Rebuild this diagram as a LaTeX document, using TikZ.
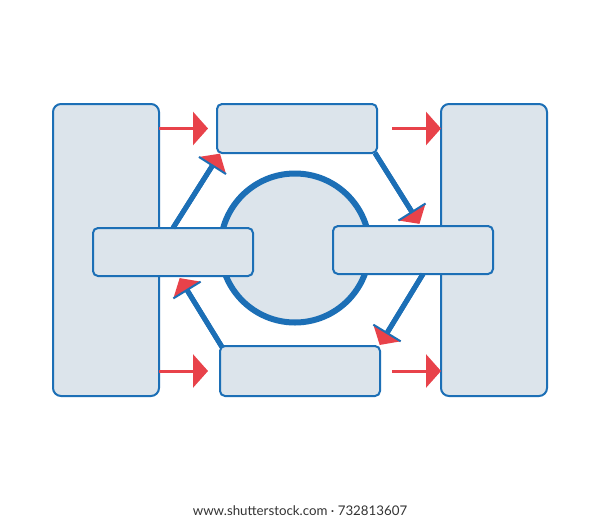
\documentclass[tikz,border=0pt]{standalone}
\usepackage{fontspec}
\setmainfont{Lato}
\usetikzlibrary{arrows.meta,calc}
\definecolor{bblue}{HTML}{1C6FB6}
\definecolor{rred}{HTML}{E8424A}
\definecolor{bfill}{HTML}{DCE4EB}
\newcommand{\hexarr}[2]{%
  \draw[hexline] (#1) -- (#2);
  \fill[rred] ($(#2)!16pt!90:(#1)$) -- ($(#2)!-14pt!(#1)$) -- ($(#2)!16pt!-90:(#1)$) -- cycle;
  \draw[bblue, line width=2pt] ($(#2)!16pt!90:(#1)$) -- ($(#2)!16pt!-90:(#1)$);
}
\begin{document}
\begin{tikzpicture}[x=1pt,y=-1pt,
  box/.style={draw=bblue, line width=2pt, fill=bfill, rounded corners=5pt,
    inner sep=0pt, outer sep=0pt, anchor=north west},
  bigbox/.style={box, rounded corners=8pt, minimum width=106pt, minimum height=292pt},
  smallbox/.style={box, minimum width=160pt, minimum height=49pt},
  hexline/.style={draw=bblue, line width=5pt},
  redarr/.style={draw=rred, line width=3pt, -{Triangle[width=33pt,length=15pt]}},
  ring/.style={draw=bblue, line width=6pt, fill=bfill}]
\useasboundingbox[fill=white] (0,0) rectangle (600,520);
% central ring
\node[ring, circle, minimum size=149pt, inner sep=0pt] (ring) at (295,248) {};
% big side boxes
\node[bigbox] (lb) at (53,104) {};
\node[bigbox] (rb) at (441,104) {};
% top and bottom boxes
\node[smallbox] (top) at (217,104) {};
\node[smallbox, minimum height=50pt] (bot) at (220,346) {};
% hexagon connector end points
\coordinate (ulE) at (212.5,165.5);
\coordinate (urE) at (412,212);
\coordinate (lrE) at (387,333);
\coordinate (llE) at (187,290);
\coordinate (lmTop) at (173,228);
\coordinate (rmBot) at (423,274);
\draw[hexline] (lmTop) -- (ulE);
\draw[hexline] ($(top.south east)+(-2,0)$) -- (urE);
\draw[hexline] (rmBot) -- (lrE);
\draw[hexline] ($(bot.north west)+(2,1)$) -- (llE);
% middle boxes
\node[smallbox, minimum height=48pt] (lm) at (93,228) {};
\node[smallbox, minimum height=48pt] (rm) at (333,226) {};
% arrowheads on hexagon
\hexarr{lm.north}{ulE}
\hexarr{$(top.south east)+(-2,0)$}{urE}
\hexarr{rmBot}{lrE}
\hexarr{$(bot.north west)+(2,1)$}{llE}
% red arrows
\draw[redarr] (lb.east |- top.west) -- ($(top.west)+(-9,0)$);
\draw[redarr] ($(top.east)+(15,0)$) -- (rb.west |- top.east);
\draw[redarr] (lb.east |- bot.west) -- ($(bot.west)+(-12,0)$);
\draw[redarr] ($(bot.east)+(12,0)$) -- (rb.west |- bot.east);
% footer
\node[text=black!80, font=\fontsize{13.3}{16}\selectfont] (foot) at (300,511) {www.shutterstock.com · 732813607};
\end{tikzpicture}
\end{document}
